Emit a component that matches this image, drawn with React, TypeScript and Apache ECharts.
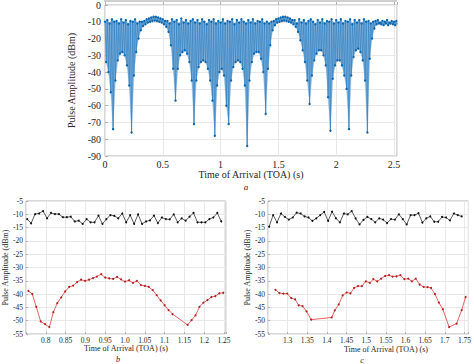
import React, { useEffect, useRef } from "react";
import * as echarts from "echarts";

// ---- Panel a: interleaved pulse amplitudes (upper train at t = k*step, lower train at t = k*step + step/2)
const topStep = 0.02;
const topUpper = [
  -10, -9, -11, -8.5, -10, -9.5, -11, -8.5, -10.5, -9,
  -11.5, -9.5, -10, -8.5, -11, -10, -10, -9.5, -8.5, -8,
  -7.5, -7, -7, -7.5, -8, -8.5, -9.5, -9.5, -11, -8.5,
  -10, -9, -11.5, -8, -10.5, -9, -11, -9.5, -8.5, -10.5,
  -9, -11, -8.5, -10, -11.5, -9, -10, -8.5, -11, -9.5,
  -10.5, -8.5, -11, -9.5, -10, -8.5, -11.5, -9, -10.5, -8.5,
  -10, -11, -9, -10.5, -8.5, -11, -9.5, -10, -8.5, -11,
  -10, -11, -10, -9.5, -8.5, -8, -7.5, -7, -7, -7.5,
  -8, -9, -9, -11, -8.5, -10.5, -9, -11, -9.5, -8.5,
  -10, -11.5, -9, -10.5, -8.5, -11, -9.5, -10, -8.5, -11,
  -9, -10.5, -8.5, -11, -9.5, -10, -8.5, -11.5, -9, -10.5,
  -9, -11, -8.5, -10, -9.5, -11, -10, -9.5, -9, -10.5,
  -9.5, -10, -9, -10.5, -9.5, -10, -9.5,
];
const topLower = [
  -34, -40, -52, -74, -45, -33, -29, -28, -30, -36,
  -48, -76, -42, -28, -20, -15, -12.5, -11.5, -10.5, -10,
  -9.5, -9.3, -9.5, -10, -10.5, -11.5, -13, -16, -24, -38,
  -57, -38, -30, -28, -27, -29, -34, -45, -71, -45,
  -37, -34, -33, -34, -38, -45, -57, -78, -48, -40,
  -38, -42, -60, -71, -45, -37, -34, -33, -34, -38,
  -48, -84, -45, -34, -29, -28, -28, -32, -40, -65,
  -38, -24, -15, -12, -10.5, -10, -9.5, -9.3, -9.5, -10,
  -10.5, -11.5, -13, -16, -21, -27, -34, -45, -59, -42,
  -33, -29, -27, -27, -30, -36, -55, -75, -44, -36,
  -33, -33, -36, -42, -50, -74, -42, -31, -27, -26,
  -28, -33, -45, -76, -32, -20, -14, -11.5, -11, -11.5,
  -12, -11, -12, -11, -11.5, -12, -11.5,
];

// ---- Panel b
const bBlackT = [
  0.753, 0.763, 0.773, 0.783, 0.793, 0.803, 0.813, 0.823, 0.833, 0.843,
  0.853, 0.863, 0.873, 0.883, 0.893, 0.903, 0.913, 0.923, 0.933, 0.943,
  0.953, 0.963, 0.973, 0.983, 0.993, 1.003, 1.013, 1.023, 1.033, 1.043,
  1.053, 1.063, 1.073, 1.083, 1.093, 1.103, 1.113, 1.123, 1.133, 1.143,
  1.153, 1.163, 1.173, 1.183, 1.193, 1.203, 1.213, 1.223, 1.233, 1.243,
];
const bBlackV = [
  -11.8, -13.4, -9.9, -9.7, -8.8, -11.5, -9.5, -9.9, -9.9, -11.1,
  -11.1, -10.9, -12.7, -12.4, -13.6, -11.8, -13.0, -13.0, -10.5, -13.6,
  -11.8, -10.3, -10.6, -11.5, -9.7, -13.0, -10.3, -13.6, -10.0, -13.6,
  -12.7, -12.3, -10.5, -13.3, -11.2, -11.8, -11.9, -10.0, -13.0, -11.5,
  -12.4, -10.9, -9.5, -13.0, -13.0, -13.0, -11.8, -11.2, -9.5, -12.7,
];
const bRedT = [
  0.756, 0.766, 0.776, 0.787, 0.798, 0.809, 0.819, 0.829, 0.839, 0.849,
  0.859, 0.869, 0.879, 0.889, 0.899, 0.909, 0.919, 0.929, 0.940, 0.950,
  0.960, 0.970, 0.980, 0.990, 1.000, 1.010, 1.020, 1.030, 1.040, 1.050,
  1.060, 1.070, 1.080, 1.090, 1.100, 1.110, 1.120,
  1.158, 1.168, 1.178, 1.188, 1.198, 1.208, 1.218, 1.228, 1.238, 1.248,
];
const bRedV = [
  -38.8, -40.0, -44.8, -50.3, -51.3, -52.4, -46.8, -43.4, -41.2, -39.0,
  -37.3, -36.8, -35.5, -34.6, -35.0, -34.6, -34.0, -33.4, -32.5, -33.8,
  -34.1, -34.3, -33.5, -34.5, -35.3, -34.8, -35.8, -35.0, -36.6, -36.9,
  -37.3, -38.5, -40.4, -42.4, -44.2, -46.0, -47.5,
  -51.6, -49.8, -48.0, -44.8, -43.2, -42.3, -41.1, -40.8, -39.7, -39.5,
];

// ---- Panel c
const cBlackT = [
  1.253, 1.263, 1.273, 1.283, 1.293, 1.303, 1.313, 1.323, 1.333, 1.343,
  1.353, 1.363, 1.373, 1.383, 1.393, 1.403, 1.413, 1.423, 1.433, 1.443,
  1.453, 1.463, 1.473, 1.483, 1.493, 1.503, 1.513, 1.523, 1.533, 1.543,
  1.553, 1.563, 1.573, 1.583, 1.593, 1.603, 1.613, 1.623, 1.633, 1.643,
  1.653, 1.663, 1.673, 1.683, 1.693, 1.703, 1.713, 1.723, 1.733, 1.743,
];
const cBlackV = [
  -14.6, -10.3, -13.0, -9.7, -11.0, -12.0, -11.2, -9.4, -9.7, -10.8,
  -11.2, -12.5, -11.5, -10.3, -9.1, -12.5, -9.0, -11.5, -13.0, -9.7,
  -10.0, -8.8, -11.5, -13.8, -12.1, -11.0, -11.8, -13.0, -11.5, -12.0,
  -13.3, -11.8, -12.0, -10.0, -11.8, -13.8, -10.3, -10.3, -9.6, -13.1,
  -11.5, -10.8, -12.8, -12.8, -11.0, -11.2, -12.3, -9.7, -10.3, -10.8,
];
const cRedT = [
  1.269, 1.279, 1.289, 1.299, 1.309, 1.319, 1.328, 1.338, 1.348, 1.360,
  1.412, 1.420, 1.430, 1.440, 1.450, 1.460, 1.469, 1.479, 1.489, 1.499,
  1.509, 1.518, 1.528, 1.538, 1.548, 1.558, 1.567, 1.577, 1.587, 1.597,
  1.607, 1.616, 1.626, 1.636, 1.646, 1.656, 1.665, 1.675, 1.685, 1.695,
  1.711, 1.730, 1.743, 1.753,
];
const cRedV = [
  -38.4, -39.6, -39.8, -39.8, -41.5, -42.0, -44.2, -44.5, -46.5, -49.6,
  -48.8, -46.1, -43.9, -40.5, -39.4, -39.7, -37.7, -37.0, -37.0, -35.2,
  -35.8, -34.4, -35.2, -34.2, -33.2, -32.9, -33.4, -33.3, -32.9, -34.4,
  -34.2, -35.2, -34.2, -36.4, -37.3, -37.4, -37.7, -40.0, -43.2, -45.7,
  -52.4, -51.1, -46.0, -41.1,
];

const FONT = "Liberation Serif";
const TXT = "#262626";
const GRIDC = "#e8e8e8";
const BOX = "#b0b0b0";

function pairs(t: number[], v: number[]) {
  return t.map((x, i) => [x, v[i]]);
}

function isMult(v: number, step: number) {
  const r = v / step;
  return Math.abs(r - Math.round(r)) < 1e-6;
}

export default function App() {
  const ref = useRef<HTMLDivElement>(null);
  useEffect(() => {
    if (!ref.current) return;
    const chart = echarts.init(ref.current, undefined, { renderer: "svg" });

    const topData: number[][] = [];
    const bandData: number[][] = [];
    for (let k = 0; k < topUpper.length; k++) {
      const tu = k * topStep;
      const tl = tu + topStep / 2;
      topData.push([tu, topUpper[k]]);
      topData.push([tl, topLower[k]]);
      bandData.push([tu, topUpper[k], tl, topLower[k]]);
    }

    // fill between consecutive zigzag samples (drawn via the axis scales)
    const renderBand = (params: any, api: any) => {
      const i = params.dataIndex;
      if (i >= bandData.length - 1) return null;
      const cur = bandData[i];
      const nxt = bandData[i + 1];
      const pts = [
        api.coord([cur[0], cur[1]]),
        api.coord([cur[2], cur[3]]),
        api.coord([nxt[2], nxt[3]]),
        api.coord([nxt[0], nxt[1]]),
      ];
      return {
        type: "polygon",
        shape: { points: pts },
        style: { fill: "#7fb0db", stroke: "#7fb0db", lineWidth: 0.3 },
        silent: true,
      };
    };

    const bottomX = (idx: number, min: number, max: number, name: string | undefined) => ({
      type: "value",
      gridIndex: idx,
      min,
      max,
      interval: 0.05,
      name,
      nameLocation: "middle",
      nameGap: 9,
      nameTextStyle: { fontFamily: FONT, fontSize: 8, color: TXT },
      axisLine: { show: false },
      axisTick: { inside: true, length: 2, lineStyle: { color: BOX } },
      splitLine: { show: true, lineStyle: { color: GRIDC, width: 1 } },
      axisLabel: {
        fontFamily: FONT,
        fontSize: 7.5,
        color: TXT,
        margin: 2,
        formatter: (v: number) => {
          if (Math.abs(v - min) < 1e-6 || !isMult(v, 0.05)) return "";
          if (Math.abs(v - 1) < 1e-6) return "1.0";
          return String(+v.toFixed(2));
        },
      },
    });
    const bottomY = (idx: number, gap: number) => ({
      type: "value",
      gridIndex: idx,
      min: -55,
      max: -5,
      interval: 5,
      name: "Pulse Amplitude (dBm)",
      nameLocation: "middle",
      nameGap: gap,
      nameTextStyle: { fontFamily: FONT, fontSize: 8, color: TXT },
      axisLine: { show: false },
      axisTick: { inside: true, length: 2, lineStyle: { color: BOX } },
      splitLine: { show: true, lineStyle: { color: GRIDC, width: 1 } },
      axisLabel: { fontFamily: FONT, fontSize: 7.5, color: TXT, margin: 3 },
    });

    const lineSeries = (xi: number, data: number[][], line: string, mark: string, lw: number, ss: number) => ({
      type: "line",
      xAxisIndex: xi,
      yAxisIndex: xi,
      data,
      symbol: "circle",
      symbolSize: ss,
      showSymbol: true,
      showAllSymbol: true,
      connectNulls: true,
      lineStyle: { color: line, width: lw },
      itemStyle: { color: mark },
      silent: true,
    });

    chart.setOption({
      animation: false,
      backgroundColor: "#ffffff",
      grid: [
        { left: 105, top: 4, width: 292, height: 152, show: true, borderColor: BOX, borderWidth: 1, backgroundColor: "transparent" },
        { left: 26, top: 201, width: 200, height: 133, show: true, borderColor: BOX, borderWidth: 1, backgroundColor: "transparent" },
        { left: 268, top: 201, width: 208, height: 133, show: true, borderColor: BOX, borderWidth: 1, backgroundColor: "transparent" },
      ],
      xAxis: [
        {
          type: "value",
          gridIndex: 0,
          min: 0,
          max: 2.526,
          interval: 0.5,
          name: "Time of Arrival (TOA) (s)",
          nameLocation: "middle",
          nameGap: 11,
          nameTextStyle: { fontFamily: FONT, fontSize: 10, color: TXT },
          axisLine: { show: false },
          axisTick: { inside: true, length: 3, lineStyle: { color: BOX } },
          splitLine: { show: true, lineStyle: { color: GRIDC, width: 1 } },
          axisLabel: {
            fontFamily: FONT,
            fontSize: 10,
            color: TXT,
            margin: 3,
            formatter: (v: number) => (isMult(v, 0.5) ? String(v) : ""),
          },
        },
        bottomX(1, 0.75, 1.255, "Time of Arrival (TOA) (s)"),
        bottomX(2, 1.25, 1.76, undefined),
      ],
      yAxis: [
        {
          type: "value",
          gridIndex: 0,
          min: -90,
          max: 0,
          interval: 10,
          name: "Pulse Amplitude (dBm)",
          nameLocation: "middle",
          nameGap: 13,
          nameTextStyle: { fontFamily: FONT, fontSize: 10, color: TXT },
          axisLine: { show: false },
          axisTick: { inside: true, length: 3, lineStyle: { color: BOX } },
          splitLine: { show: true, lineStyle: { color: GRIDC, width: 1 } },
          axisLabel: { fontFamily: FONT, fontSize: 10, color: TXT, margin: 4 },
        },
        bottomY(1, 15),
        bottomY(2, 15),
      ],
      series: [
        {
          type: "custom",
          xAxisIndex: 0,
          yAxisIndex: 0,
          data: bandData,
          encode: { x: [0, 2], y: [1, 3] },
          renderItem: renderBand,
          silent: true,
          z: 1,
        },
        lineSeries(0, topData, "#2a7cc0", "#0b67b0", 0.6, 2.4),
        lineSeries(1, pairs(bBlackT, bBlackV), "#333333", "#111111", 0.8, 2),
        lineSeries(1, pairs(bRedT, bRedV), "#e23b3b", "#b01e22", 0.8, 2),
        lineSeries(2, pairs(cBlackT, cBlackV), "#333333", "#111111", 0.8, 2),
        lineSeries(2, pairs(cRedT, cRedV), "#e23b3b", "#b01e22", 0.8, 2),
      ],
      graphic: [
        { type: "rect", shape: { x: 104, y: 0, width: 293, height: 2 }, style: { fill: "#cfcfcf" }, silent: true },
        {
          type: "text",
          x: 386,
          y: 349,
          style: { text: "Time of Arrival (TOA) (s)", fontFamily: FONT, fontSize: 8, fill: TXT, align: "center", verticalAlign: "middle" },
          silent: true,
        },
        { type: "text", x: 246, y: 187, style: { text: "a", fontFamily: FONT, fontSize: 9, fontStyle: "italic", fill: TXT, align: "center", verticalAlign: "middle" }, silent: true },
        { type: "text", x: 118, y: 359, style: { text: "b", fontFamily: FONT, fontSize: 8, fontStyle: "italic", fill: TXT, align: "center", verticalAlign: "middle" }, silent: true },
        { type: "text", x: 362, y: 360, style: { text: "c", fontFamily: FONT, fontSize: 8, fontStyle: "italic", fill: TXT, align: "center", verticalAlign: "middle" }, silent: true },
      ],
    });
    return () => chart.dispose();
  }, []);
  return (
    <div
      ref={ref}
      style={{ position: "fixed", left: 0, top: 0, width: 474, height: 364, background: "#fff" }}
    />
  );
}
